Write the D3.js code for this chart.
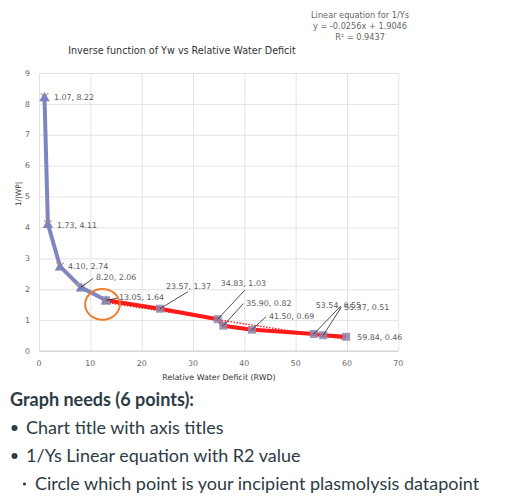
<!DOCTYPE html>
<html>
<head>
<meta charset="utf-8">
<script src="https://cdn.jsdelivr.net/npm/d3@7"></script>
<style>
  body { margin: 0; background: #fff; }
  svg { display: block; }
</style>
</head>
<body>
<svg width="523" height="503"></svg>
<script>
// values
const rwd = [1.07, 1.73, 4.10, 8.20, 13.05, 23.57, 34.83, 35.90, 41.50, 53.54, 55.37, 59.84];
const invWp = [8.22, 4.11, 2.74, 2.06, 1.64, 1.37, 1.03, 0.82, 0.69, 0.55, 0.51, 0.46];
const blueIdx = [0, 1, 2, 3, 4];
const redIdx = [4, 5, 6, 7, 8, 9, 10, 11];
const xTicks = [0, 10, 20, 30, 40, 50, 60, 70];
const yTicks = [0, 1, 2, 3, 4, 5, 6, 7, 8, 9];
const slope = -0.0256;
const intercept = 1.9046;
const equationLines = ['Linear equation for 1/Ys', 'y = -0.0256x + 1.9046', 'R\u00B2 = 0.9437'];
const notes = ['Chart title with axis titles', '1/Ys Linear equation with R2 value', 'Circle which point is your incipient plasmolysis datapoint'];

// label placement: [dx, dy, leaderDx, leaderDy] relative to the point
const labelPos = [
  [9.5, 0], [9, 1], [8, 0],
  [15, -10, 12, -9], [13, -3, 11, -2], [6, -23, 28, -17],
  [3, -36, 27, -29], [23, -23, 20, -22], [17, -14, 14, -13],
  [2, -28.5, 27, -28], [21, -28.5, 18, -28], [11, 0.5]
];

const svg = d3.select('svg');
const x = d3.scaleLinear().domain([0, 70]).range([39, 398.3]);
const y = d3.scaleLinear().domain([0, 9]).range([351, 73]);
const font = '"DejaVu Sans", sans-serif';

// grid
svg.append('g')
  .attr('transform', `translate(0,${y(0)})`)
  .call(d3.axisBottom(x).tickValues(xTicks).tickSize(-(y(0) - y(9))).tickFormat(''))
  .call(g => g.select('.domain').remove())
  .selectAll('line').attr('stroke', '#e3e3e3');
svg.append('g')
  .attr('transform', `translate(${x(0)},0)`)
  .call(d3.axisLeft(y).tickValues(yTicks).tickSize(-(x(70) - x(0))).tickFormat(''))
  .call(g => g.select('.domain').remove())
  .selectAll('line').attr('stroke', '#e3e3e3');
svg.append('line')
  .attr('x1', x(0)).attr('x2', x(70)).attr('y1', y(0)).attr('y2', y(0))
  .attr('stroke', '#d0d0d0');

// tick labels
svg.append('g').selectAll('text').data(xTicks).join('text')
  .attr('x', d => x(d)).attr('y', 366)
  .attr('text-anchor', 'middle')
  .attr('font-family', font).attr('font-size', 7.8).attr('fill', '#666')
  .text(d => d);
svg.append('g').selectAll('text').data(yTicks).join('text')
  .attr('x', 30).attr('y', d => y(d) + 2.7)
  .attr('text-anchor', 'end')
  .attr('font-family', font).attr('font-size', 7.8).attr('fill', '#666')
  .text(d => d);

// titles
svg.append('text').attr('x', 182).attr('y', 54)
  .attr('text-anchor', 'middle').attr('font-family', font).attr('font-size', 9.6).attr('fill', '#333')
  .text('Inverse function of Yw vs Relative Water Deficit');
svg.append('text').attr('x', 219).attr('y', 380)
  .attr('text-anchor', 'middle').attr('font-family', font).attr('font-size', 7.9).attr('fill', '#333')
  .text('Relative Water Deficit (RWD)');
svg.append('text').attr('transform', 'translate(21,194) rotate(-90)')
  .attr('text-anchor', 'middle').attr('font-family', font).attr('font-size', 7.6).attr('fill', '#333')
  .text('1/|WP|');
svg.append('g').selectAll('text').data(equationLines).join('text')
  .attr('x', 360).attr('y', (d, i) => 17.5 + i * 11)
  .attr('text-anchor', 'middle').attr('font-family', font).attr('font-size', 8.2).attr('fill', '#666')
  .text(d => d);

// series
const line = d3.line().x(i => x(rwd[i])).y(i => y(invWp[i]));
svg.append('path').attr('d', line(blueIdx))
  .attr('fill', 'none').attr('stroke', '#7f86bf').attr('stroke-width', 4).attr('stroke-linejoin', 'round');
svg.append('path').attr('d', line(redIdx))
  .attr('fill', 'none').attr('stroke', '#ff1a1a').attr('stroke-width', 4).attr('stroke-linejoin', 'round');

// trendline
const xr = d3.extent(redIdx, i => rwd[i]);
svg.append('line')
  .attr('x1', x(xr[0])).attr('y1', y(slope * xr[0] + intercept))
  .attr('x2', x(xr[1])).attr('y2', y(slope * xr[1] + intercept))
  .attr('stroke', '#ff1a1a').attr('stroke-width', 1.4).attr('stroke-dasharray', '1.5,1.5');

// markers
svg.append('g').selectAll('path').data(blueIdx).join('path')
  .attr('transform', i => `translate(${x(rwd[i])},${y(invWp[i])})`)
  .attr('d', d3.symbol(d3.symbolX, 40))
  .attr('stroke', '#c9ab7e').attr('stroke-width', 1.3);
svg.append('g').selectAll('path').data(blueIdx).join('path')
  .attr('transform', i => `translate(${x(rwd[i])},${y(invWp[i]) + 1})`)
  .attr('d', d3.symbol(d3.symbolTriangle, 48))
  .attr('fill', '#7b84bd');
svg.append('g').selectAll('rect').data(redIdx).join('rect')
  .attr('x', i => x(rwd[i]) - 4).attr('y', i => y(invWp[i]) - 4)
  .attr('width', 8).attr('height', 8)
  .attr('fill', '#8f86ad').attr('fill-opacity', 0.85);

// data labels with leaders
rwd.forEach((v, i) => {
  const px = x(v), py = y(invWp[i]);
  const p = labelPos[i];
  if (p.length > 2) {
    svg.append('line')
      .attr('x1', px).attr('y1', py).attr('x2', px + p[2]).attr('y2', py + p[3])
      .attr('stroke', '#222').attr('stroke-width', 0.8);
  }
  svg.append('text')
    .attr('x', px + p[0]).attr('y', py + p[1] + 2.9)
    .attr('font-family', font).attr('font-size', 7.9).attr('fill', '#595959')
    .text(`${v.toFixed(2)}, ${invWp[i].toFixed(2)}`);
});

// hand-drawn circle around the incipient plasmolysis point
const cx = x(rwd[4]) - 3.5, cy = y(invWp[4]) + 4;
const loop = d3.range(-0.35, 2 * Math.PI + 0.1, 0.25).map(a => [cx + 17.5 * Math.cos(a), cy - 15.5 * Math.sin(a)]);
svg.append('path').attr('d', d3.line().curve(d3.curveBasis)(loop))
  .attr('fill', 'none').attr('stroke', '#ee7d31').attr('stroke-width', 2);

// notes below the chart
const noteFont = 'Lato, "Open Sans", sans-serif';
svg.append('text').attr('x', 10).attr('y', 406)
  .attr('font-family', noteFont).attr('font-weight', 'bold').attr('font-size', 18).attr('fill', '#2d3b45')
  .text('Graph needs (6 points):');
const nx = [12, 12, 22], tx = [26, 26, 35], ny = [434, 462, 490];
notes.forEach((t, i) => {
  svg.append('circle').attr('cx', nx[i] + 2.5).attr('cy', ny[i] - 6).attr('r', i < 2 ? 3 : 1.6).attr('fill', '#2d3b45');
  svg.append('text').attr('x', tx[i]).attr('y', ny[i])
    .attr('font-family', noteFont).attr('font-size', 18).attr('fill', '#2d3b45')
    .text(t);
});
</script>
</body>
</html>
